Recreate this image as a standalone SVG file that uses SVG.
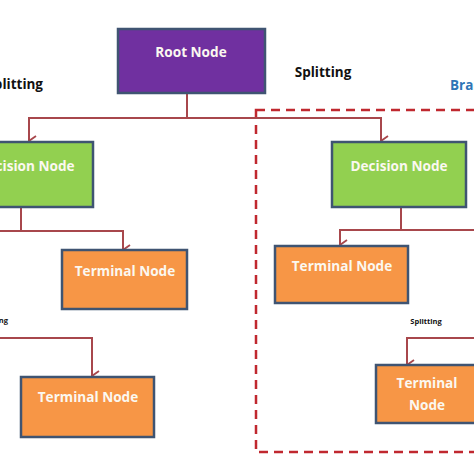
<svg xmlns="http://www.w3.org/2000/svg" width="474" height="474" viewBox="0 0 474 474">
<style>
.box{stroke:#3f5472;stroke-width:2.5}
.root{fill:#7030a0}
.dec{fill:#92d050}
.term{fill:#f79646}
.nt{font-family:"Open Sans","DejaVu Sans",sans-serif;font-weight:bold;font-size:13.6px;fill:#fbf8f0;text-anchor:middle}
.lbl{font-family:"Open Sans","DejaVu Sans",sans-serif;font-weight:bold;font-size:13.5px;fill:#111}
.sm{font-family:"Open Sans","DejaVu Sans",sans-serif;font-weight:bold;font-size:7.5px;fill:#111}
.br{font-family:"Open Sans","DejaVu Sans",sans-serif;font-weight:bold;font-size:13.5px;fill:#2e75b6}
.c{fill:none;stroke:#a8474c;stroke-width:2}
.dash{fill:none;stroke:#c0282f;stroke-width:2.5;stroke-dasharray:9,6}
</style>
<defs>
<marker id="arr" viewBox="0 0 12 12" refX="6" refY="11" markerWidth="12" markerHeight="12" markerUnits="userSpaceOnUse" orient="auto-start-reverse">
<polyline points="1,4 6,11 11,4" fill="none" stroke="#a8474c" stroke-width="1.8"/>
</marker>
</defs>
<rect width="474" height="474" fill="#ffffff"/>
<rect id="branch-box" class="dash" x="256" y="110" width="240" height="342"/>
<text class="lbl" x="43" y="89" text-anchor="end">Splitting</text>
<text class="lbl" x="323" y="77" text-anchor="middle">Splitting</text>
<text class="br" x="450" y="90">Branch / Sub-Tree</text>
<text class="sm" x="8" y="323" text-anchor="end">Splitting</text>
<text class="sm" x="426" y="324" text-anchor="middle">Splitting</text>
<g id="connectors">
<path class="c" d="M187,93 V118 H29 V141" marker-end="url(#arr)"/>
<path class="c" d="M187,118 H381 V141" marker-end="url(#arr)"/>
<path class="c" d="M21,207 V231 H-5"/>
<path class="c" d="M21,231 H123 V250" marker-end="url(#arr)"/>
<path class="c" d="M-5,338 H92 V376" marker-end="url(#arr)"/>
<path class="c" d="M401,207 V230 H480"/>
<path class="c" d="M401,230 H340 V245" marker-end="url(#arr)"/>
<path class="c" d="M480,338 H407 V365" marker-end="url(#arr)"/>
</g>
<g id="root">
<rect class="box root" x="118" y="29" width="147" height="64"/>
<text class="nt" x="191" y="57">Root Node</text>
</g>
<g id="decision-left">
<rect class="box dec" x="-41" y="142" width="134" height="65"/>
<text class="nt" x="26" y="171">Decision Node</text>
</g>
<g id="decision-right">
<rect class="box dec" x="332" y="142" width="134" height="65"/>
<text class="nt" x="399" y="171">Decision Node</text>
</g>
<g id="terminal-1">
<rect class="box term" x="62" y="250" width="125" height="59"/>
<text class="nt" x="125" y="276">Terminal Node</text>
</g>
<g id="terminal-2">
<rect class="box term" x="21" y="377" width="133" height="60"/>
<text class="nt" x="88" y="402">Terminal Node</text>
</g>
<g id="terminal-3">
<rect class="box term" x="275" y="246" width="133" height="57"/>
<text class="nt" x="342" y="271">Terminal Node</text>
</g>
<g id="terminal-4">
<rect class="box term" x="376" y="365" width="102" height="58"/>
<text class="nt" x="427" y="388">Terminal</text>
<text class="nt" x="427" y="410">Node</text>
</g>
</svg>
